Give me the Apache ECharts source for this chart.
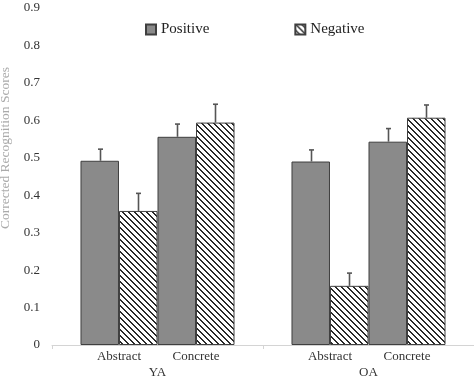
<!DOCTYPE html>
<html>
<head>
<meta charset="utf-8">
<script src="https://cdn.jsdelivr.net/npm/echarts@6/dist/echarts.min.js"></script>
<style>html,body{margin:0;padding:0;background:#fff}#c{width:474px;height:379px}</style>
</head>
<body>
<div id="c"></div>
<script>
// ---- data ----
const groups = ['YA', 'OA'];
const subLabels = ['Abstract', 'Concrete'];
const yTicks = [0, 0.1, 0.2, 0.3, 0.4, 0.5, 0.6, 0.7, 0.8, 0.9];
const positiveAbstract = [0.492, 0.490];
const negativeAbstract = [0.358, 0.158];
const positiveConcrete = [0.556, 0.543];
const negativeConcrete = [0.594, 0.607];
const errPositiveAbstract = [0.031, 0.031];
const errNegativeAbstract = [0.047, 0.034];
const errPositiveConcrete = [0.034, 0.035];
const errNegativeConcrete = [0.049, 0.034];

// hatch pattern
function makeHatch() {
  const c = document.createElement('canvas');
  c.width = 6; c.height = 6;
  const g = c.getContext('2d');
  g.fillStyle = '#ffffff'; g.fillRect(0, 0, 6, 6);
  g.fillStyle = '#2a2a2a';
  for (let i = 0; i < 6; i++) {
    g.fillRect(i, i, 1, 1);
    g.fillRect((i + 1) % 6, i, 1, 1);
  }
  return c;
}
const hatch = { image: makeHatch(), repeat: 'repeat' };
const posStyle = { color: '#8a8a8a', borderColor: '#3f3f3f', borderWidth: 1 };
const negStyle = { color: hatch, borderColor: '#3f3f3f', borderWidth: 1 };

const barSets = [
  { name: 'Positive', vals: positiveAbstract, err: errPositiveAbstract, style: posStyle },
  { name: 'Negative', vals: negativeAbstract, err: errNegativeAbstract, style: negStyle },
  { name: 'Positive', vals: positiveConcrete, err: errPositiveConcrete, style: posStyle },
  { name: 'Negative', vals: negativeConcrete, err: errNegativeConcrete, style: negStyle }
];
const GAP = 0.27;

const errData = [];
barSets.forEach((s, k) => s.vals.forEach((v, i) => errData.push([i, v, s.err[i], k])));

const series = barSets.map(s => ({
  type: 'bar', name: s.name, data: s.vals, barGap: '0%', barCategoryGap: (GAP * 100) + '%',
  itemStyle: s.style, emphasis: { disabled: true }, animation: false
}));
series.push({
  type: 'custom', name: 'err', data: errData, animation: false, z: 5,
  renderItem: function (params, api) {
    const ci = api.value(0), v = api.value(1), e = api.value(2), k = api.value(3);
    const band = api.size([1, 0])[0];
    const bw = band * (1 - GAP) / 4;
    const c0 = api.coord([ci, v]);
    const c1 = api.coord([ci, v + e]);
    const x = Math.round(c0[0] + (k - 1.5) * bw) + 0.5;
    const st = { stroke: '#555', lineWidth: 1.6 };
    return { type: 'group', children: [
      { type: 'line', shape: { x1: x, y1: c0[1], x2: x, y2: c1[1] }, style: st },
      { type: 'line', shape: { x1: x - 2.5, y1: c1[1], x2: x + 2.5, y2: c1[1] }, style: st }
    ]};
  }
});

const chart = echarts.init(document.getElementById('c'), null, { renderer: 'canvas' });
chart.setOption({
  backgroundColor: '#ffffff',
  textStyle: { fontFamily: 'Liberation Serif' },
  legend: {
    data: ['Positive', 'Negative'], top: 17, left: 140, itemGap: 85,
    itemWidth: 10, itemHeight: 10, icon: 'rect',
    textStyle: { fontFamily: 'Liberation Serif', fontSize: 15, color: '#222' },
    selectedMode: false
  },
  grid: { left: 52, right: 0, top: 8, bottom: 34, containLabel: false, outerBoundsMode: 'none' },
  xAxis: {
    type: 'category', data: groups,
    axisLine: { lineStyle: { color: '#d4d4d4' } },
    axisTick: { show: true, length: 4, lineStyle: { color: '#d4d4d4' } },
    axisLabel: {
      margin: 4,
      formatter: v => '{s|' + subLabels[0] + '}{s|' + subLabels[1] + '}\n{g|' + v + '}',
      rich: {
        s: { width: 77, align: 'center', fontFamily: 'Liberation Serif', fontSize: 13, color: '#333', lineHeight: 16 },
        g: { fontFamily: 'Liberation Serif', fontSize: 13, color: '#333', lineHeight: 16, align: 'center' }
      }
    }
  },
  yAxis: {
    type: 'value', min: yTicks[0], max: yTicks[yTicks.length - 1], interval: 0.1,
    name: 'Corrected Recognition Scores', nameLocation: 'middle', nameGap: 33,
    nameTextStyle: { fontFamily: 'Liberation Serif', fontSize: 13.5, color: '#aaa', padding: [0, 0, 0, 57] },
    axisLine: { show: false }, axisTick: { show: false }, splitLine: { show: false },
    axisLabel: { margin: 12, fontFamily: 'Liberation Serif', fontSize: 13, color: '#333',
      formatter: v => String(Math.round(v * 10) / 10) }
  },
  series: series
});
</script>
</body>
</html>
